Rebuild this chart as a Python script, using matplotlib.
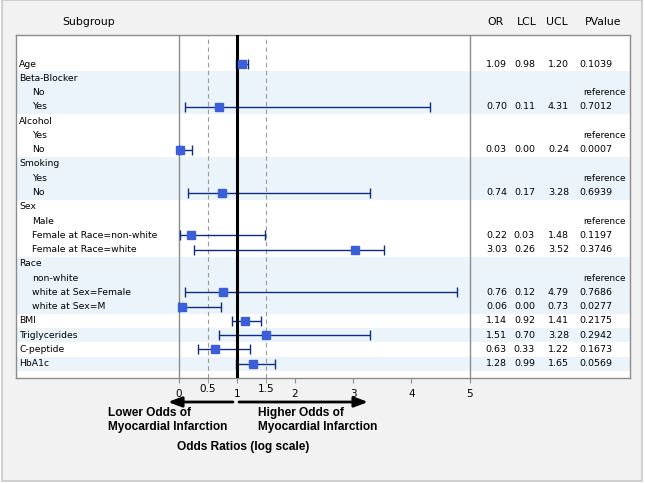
import numpy as np
import matplotlib
matplotlib.use("Agg")
import matplotlib.pyplot as plt
from matplotlib.patches import Rectangle, FancyArrowPatch

# forest plot of odds ratios by subgroup
labels = ['Age', 'Beta-Blocker', 'No', 'Yes', 'Alcohol', 'Yes', 'No',
          'Smoking', 'Yes', 'No', 'Sex', 'Male', 'Female at Race=non-white',
          'Female at Race=white', 'Race', 'non-white', 'white at Sex=Female',
          'white at Sex=M', 'BMI', 'Triglycerides', 'C-peptide', 'HbA1c']
indent = [0, 0, 1, 1, 0, 1, 1, 0, 1, 1, 0, 1, 1, 1, 0, 1, 1, 1, 0, 0, 0, 0]
nan = np.nan
odds = [1.09, nan, nan, 0.70, nan, nan, 0.03, nan, nan, 0.74, nan, nan, 0.22,
        3.03, nan, nan, 0.76, 0.06, 1.14, 1.51, 0.63, 1.28]
lcl = [0.98, nan, nan, 0.11, nan, nan, 0.00, nan, nan, 0.17, nan, nan, 0.03,
       0.26, nan, nan, 0.12, 0.00, 0.92, 0.70, 0.33, 0.99]
ucl = [1.20, nan, nan, 4.31, nan, nan, 0.24, nan, nan, 3.28, nan, nan, 1.48,
       3.52, nan, nan, 4.79, 0.73, 1.41, 3.28, 1.22, 1.65]
pvals = ['0.1039', '', '', '0.7012', '', '', '0.0007', '', '', '0.6939', '', '',
         '0.1197', '0.3746', '', '', '0.7686', '0.0277', '0.2175', '0.2942',
         '0.1673', '0.0569']
band_rows = [1, 2, 3, 7, 8, 9, 14, 15, 16, 17, 19, 21]
xticks_major = [0, 1, 2, 3, 4, 5]
xticks_minor = [0.5, 1.5]

odds = np.array(odds)
lcl = np.array(lcl)
ucl = np.array(ucl)
rows = np.arange(len(labels))

W, H = 645, 483
def fx(p):
    return p / W
def fy(p):
    return 1 - p / H

fig = plt.figure(figsize=(6.45, 4.83), dpi=100, facecolor='white')
fig.patches.append(Rectangle((fx(2), fy(481)), 640 / W, 481 / H, transform=fig.transFigure,
                             facecolor='#f2f2f2', edgecolor='#c8c8c8', lw=1.2, zorder=-10))

ax = fig.add_axes([fx(15.5), fy(378), (630 - 15.5) / W, 343 / H])
ax.set_facecolor('white')
x0, ppu = 178.5, 58.24
def dx(p):
    return (p - x0) / ppu
ax.set_xlim(dx(15.5), dx(630))
ax.set_ylim(22.0, -2.04)

for r in band_rows:
    ax.axhspan(r - 0.5, r + 0.5, color='#ebf4fb', lw=0, zorder=0)

gray = '#8c8c8c'
ax.axvline(0, color=gray, lw=1, zorder=1)
ax.axvline(5, color=gray, lw=1, zorder=1)
for v in xticks_minor:
    ax.axvline(v, color='#999999', lw=0.8, ls=(0, (4, 3)), zorder=1)

ax.errorbar(odds, rows, xerr=[odds - lcl, ucl - odds], fmt='none', ecolor='#0c2d83',
            elinewidth=1, capsize=3.6, capthick=1, zorder=2)
ax.axvline(1, color='black', lw=2.2, zorder=3)
ax.plot(odds, rows, 's', color='#3a5fd9', ms=5.3, zorder=4)

for s in ax.spines.values():
    s.set_color(gray)
    s.set_linewidth(1)
ax.set_yticks([])
ax.set_xticks(xticks_major, labels=[str(t) for t in xticks_major])
ax.set_xticks(xticks_minor, labels=[str(t) for t in xticks_minor], minor=True)
ax.tick_params(axis='x', which='both', length=3.6, color=gray, labelsize=7.5)
ax.tick_params(axis='x', which='major', pad=4)
ax.tick_params(axis='x', which='minor', pad=0.5)

# subgroup labels and table
for i, lab in enumerate(labels):
    ax.text(dx(19 if indent[i] == 0 else 32), i, lab, va='center', ha='left', fontsize=6.7)
    if not np.isnan(odds[i]):
        ax.text(dx(507), i, f'{odds[i]:.2f}', va='center', ha='right', fontsize=6.8)
        ax.text(dx(535), i, f'{lcl[i]:.2f}', va='center', ha='right', fontsize=6.8)
        ax.text(dx(569), i, f'{ucl[i]:.2f}', va='center', ha='right', fontsize=6.8)
        ax.text(dx(579.5), i, pvals[i], va='center', ha='left', fontsize=6.8)
    elif indent[i] == 1:
        ax.text(dx(626), i, 'reference', va='center', ha='right', fontsize=6.4)

fig.text(fx(62.7), fy(21.7), 'Subgroup', fontsize=7.8, va='center')
for name, cx in [('OR', 496), ('LCL', 527), ('UCL', 556.5), ('PValue', 603.5)]:
    fig.text(fx(cx), fy(21.7), name, fontsize=7.8, va='center', ha='center')

# arrows + direction labels
for a, b in [(233, 168), (239, 368)]:
    fig.patches.append(FancyArrowPatch((fx(a), fy(402)), (fx(b), fy(402)), transform=fig.transFigure,
                                       arrowstyle='-|>,head_length=0.45,head_width=0.17',
                                       mutation_scale=18, lw=2, color='black',
                                       shrinkA=0, shrinkB=0))
bold = dict(fontweight='bold', family='Liberation Sans', fontsize=8.6, va='center')
fig.text(fx(108), fy(413), 'Lower Odds of', **bold)
fig.text(fx(108), fy(427), 'Myocardial Infarction', **bold)
fig.text(fx(258), fy(413), 'Higher Odds of', **bold)
fig.text(fx(258), fy(427), 'Myocardial Infarction', **bold)
fig.text(fx(243.5), fy(447), 'Odds Ratios (log scale)', ha='center', **bold)

fig.savefig('out.png', dpi=100)
